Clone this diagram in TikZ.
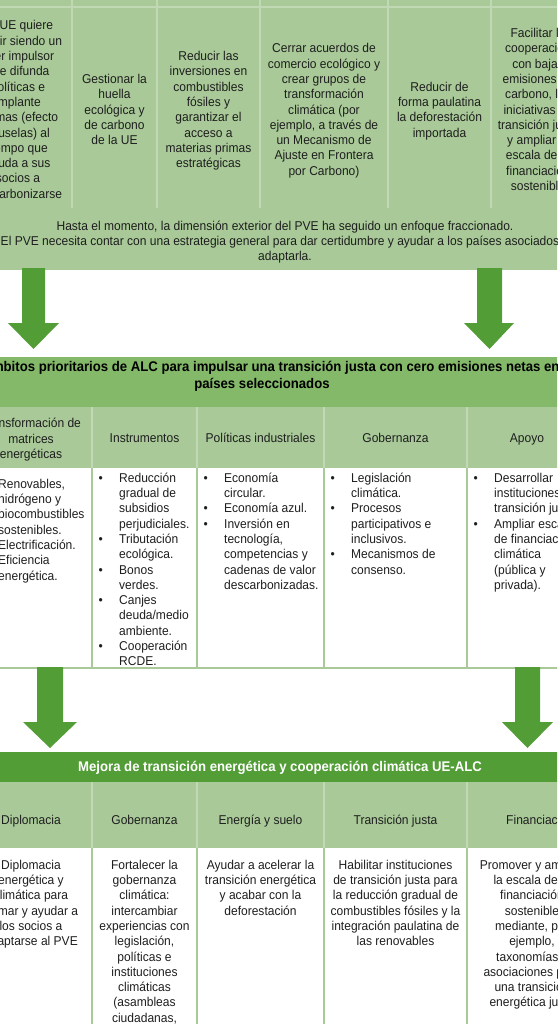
\documentclass[tikz,border=0pt]{standalone}
\usepackage{fontspec}
\setmainfont{Liberation Sans}[FakeStretch=0.94]
\definecolor{lg}{RGB}{169,202,152}
\definecolor{mg}{RGB}{131,185,105}
\definecolor{dg}{RGB}{82,157,54}
\definecolor{sepc}{RGB}{192,217,180}
\definecolor{ink}{RGB}{30,30,30}
\newcommand\bitem{\makebox[20.5pt][l]{\textbullet}}
\newcommand\bcont{\hspace*{20.5pt}}
\newcommand\ctab[1]{\begin{tabular}{@{}c@{}}#1\end{tabular}}
\newcommand\ltab[1]{\begin{tabular}{@{}l@{}}#1\end{tabular}}
\tikzset{
  txt/.style={inner sep=0pt, text=ink, font=\fontsize{12.8}{15.3}\selectfont},
  hdr/.style={inner sep=0pt, font=\bfseries\fontsize{14}{17}\selectfont},
  arr/.style={fill=dg, draw=none},
  sepL/.style={draw=sepc, line width=1.2pt},
  sepW/.style={draw=lg, line width=1.5pt},
}
\begin{document}
\begin{tikzpicture}[x=1pt,y=-1pt]
\useasboundingbox (0,0) rectangle (557,1024);
\clip (0,0) rectangle (557,1024);
% ---------- top table ----------
\fill[lg] (-60,-5) rectangle (620,270);
\draw[sepL] (-60,7) -- (620,7);
\foreach \xx in {72,157,260,388,491} \draw[sepL] (\xx,0) -- (\xx,208);
\node[txt] (a1) at (18,111) {\ctab{La UE quiere\\seguir siendo un\\líder impulsor\\que difunda\\políticas e\\implante\\normas (efecto\\Bruselas) al\\tiempo que\\ayuda a sus\\socios a\\descarbonizarse}};
\node[txt] (a2) at (114.5,111) {\ctab{Gestionar la\\huella\\ecológica y\\de carbono\\de la UE}};
\node[txt] (a3) at (208.5,111) {\ctab{Reducir las\\inversiones en\\combustibles\\fósiles y\\garantizar el\\acceso a\\materias primas\\estratégicas}};
\node[txt] (a4) at (324,111) {\ctab{Cerrar acuerdos de\\comercio ecológico y\\crear grupos de\\transformación\\climática (por\\ejemplo, a través de\\un Mecanismo de\\Ajuste en Frontera\\por Carbono)}};
\node[txt] (a5) at (439.5,111) {\ctab{Reducir de\\forma paulatina\\la deforestación\\importada}};
\node[txt] (a6) at (538,111) {\ctab{Facilitar la\\cooperación\\con bajas\\emisiones de\\carbono, las\\iniciativas de\\transición justa\\y ampliar la\\escala de la\\financiación\\sostenible}};
\node[txt] (a7) at (285,242.6) {\ctab{Hasta el momento, la dimensión exterior del PVE ha seguido un enfoque fraccionado.\\El PVE necesita contar con una estrategia general para dar certidumbre y ayudar a los países asociados a\\adaptarla.}};
% ---------- arrows 1 ----------
\fill[arr] (22,268) -- (45,268) -- (45,323) -- (59,323) -- (33.5,349) -- (8,323) -- (22,323) -- cycle;
\fill[arr] (477,268) -- (502,268) -- (502,323) -- (514,323) -- (489.5,349) -- (464,323) -- (477,323) -- cycle;
% ---------- second table ----------
\fill[mg] (-60,357) rectangle (620,407);
\fill[lg] (-60,407) rectangle (620,468);
\foreach \xx in {92,197,324,467} {\draw[sepL] (\xx,407) -- (\xx,468); \draw[sepW] (\xx,468) -- (\xx,668);}
\draw[sepW] (-60,668) -- (620,668);
\node[hdr, anchor=north] (b0) at (271,359.1) {\ctab{Ámbitos prioritarios de ALC para impulsar una transición justa con cero emisiones netas en\\países seleccionados\hspace*{18pt}}};
\node[txt, anchor=north] (b1) at (31,416.8) {\ctab{Transformación de\\matrices\\energéticas}};
\node[txt, anchor=base] (b2) at (144.5,442.5) {Instrumentos};
\node[txt, anchor=base] (b3) at (260.5,442.5) {Políticas industriales};
\node[txt, anchor=base] (b4) at (395.5,442.5) {Gobernanza};
\node[txt, anchor=base] (b5) at (527,442.5) {Apoyo};
\node[txt, anchor=north west] (c1) at (-22.5,477.3) {\ltab{\bitem Renovables,\\\bcont hidrógeno y\\\bcont biocombustibles\\\bcont sostenibles.\\\bitem Electrificación.\\\bitem Eficiencia\\\bcont energética.}};
\node[txt, anchor=north west] (c2) at (98.5,471.3) {\ltab{\bitem Reducción\\\bcont gradual de\\\bcont subsidios\\\bcont perjudiciales.\\\bitem Tributación\\\bcont ecológica.\\\bitem Bonos\\\bcont verdes.\\\bitem Canjes\\\bcont deuda/medio\\\bcont ambiente.\\\bitem Cooperación\\\bcont RCDE.}};
\node[txt, anchor=north west] (c3) at (203.5,471.3) {\ltab{\bitem Economía\\\bcont circular.\\\bitem Economía azul.\\\bitem Inversión en\\\bcont tecnología,\\\bcont competencias y\\\bcont cadenas de valor\\\bcont descarbonizadas.}};
\node[txt, anchor=north west] (c4) at (330.5,471.3) {\ltab{\bitem Legislación\\\bcont climática.\\\bitem Procesos\\\bcont participativos e\\\bcont inclusivos.\\\bitem Mecanismos de\\\bcont consenso.}};
\node[txt, anchor=north west] (c5) at (473.5,471.3) {\ltab{\bitem Desarrollar\\\bcont instituciones de\\\bcont transición justa.\\\bitem Ampliar escala\\\bcont de financiación\\\bcont climática\\\bcont (pública y\\\bcont privada).}};
% ---------- arrows 2 ----------
\fill[arr] (37,667) -- (63,667) -- (63,722) -- (77,722) -- (50,748) -- (23,722) -- (37,722) -- cycle;
\fill[arr] (515,667) -- (540,667) -- (540,722) -- (553,722) -- (527.5,748) -- (502,722) -- (515,722) -- cycle;
% ---------- third table ----------
\fill[dg] (-60,752) rectangle (620,782);
\fill[lg] (-60,782) rectangle (620,848);
\foreach \xx in {92,197,324,467} {\draw[sepL] (\xx,782) -- (\xx,848); \draw[sepW] (\xx,848) -- (\xx,1030);}
\node[hdr, anchor=base, text=white] (d0) at (280,771.5) {Mejora de transición energética y cooperación climática UE-ALC};
\node[txt, anchor=base] (d1) at (31,824.5) {Diplomacia};
\node[txt, anchor=base] (d2) at (144.5,824.5) {Gobernanza};
\node[txt, anchor=base] (d3) at (260.5,824.5) {Energía y suelo};
\node[txt, anchor=base] (d4) at (395.5,824.5) {Transición justa};
\node[txt, anchor=base] (d5) at (540,824.5) {Financiación};
\node[txt, anchor=north] (e1) at (31,858.3) {\ctab{Diplomacia\\energética y\\climática para\\formar y ayudar a\\los socios a\\adaptarse al PVE}};
\node[txt, anchor=north] (e2) at (144.5,858.3) {\ctab{Fortalecer la\\gobernanza\\climática:\\intercambiar\\experiencias con\\legislación,\\políticas e\\instituciones\\climáticas\\(asambleas\\ciudadanas,}};
\node[txt, anchor=north] (e3) at (260.5,858.3) {\ctab{Ayudar a acelerar la\\transición energética\\y acabar con la\\deforestación}};
\node[txt, anchor=north] (e4) at (395.5,858.3) {\ctab{Habilitar instituciones\\de transición justa para\\la reducción gradual de\\combustibles fósiles y la\\integración paulatina de\\las renovables}};
\node[txt, anchor=north] (e5) at (532,858.3) {\ctab{Promover y ampliar\\la escala de la\\financiación\\sostenible\\mediante, por\\ejemplo,\\taxonomías y\\asociaciones para\\una transición\\energética justa}};
\end{tikzpicture}
\end{document}
